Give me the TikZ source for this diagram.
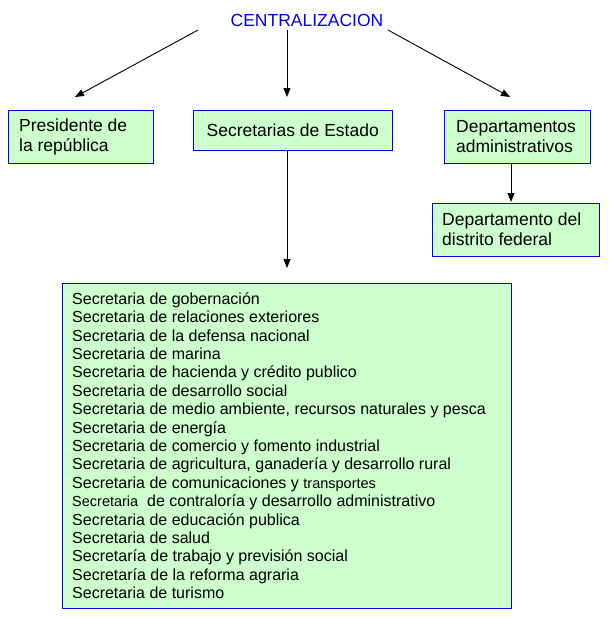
\documentclass[tikz,border=0pt]{standalone}
\usepackage{fontspec}
\setmainfont{Liberation Sans}
\usetikzlibrary{positioning,arrows.meta}
\definecolor{boxgreen}{HTML}{CCFFCC}
\begin{document}
\begin{tikzpicture}[x=1pt,y=-1pt]
    % Styles
    \tikzset{
        entity/.style={draw=blue, fill=boxgreen, anchor=north west, inner sep=0pt,
            align=left, font=\fontsize{17.5}{20}\selectfont},
        link/.style={-{Triangle[length=9pt,width=7pt]}, line width=0.9pt}
    }
    \useasboundingbox (0,0) rectangle (609,618);

    % Title
    \node[text=blue, font=\fontsize{17.5}{20}\selectfont] (title) at (307,20) {CENTRALIZACION};

    % Boxes
    \node[entity, minimum width=145pt, minimum height=53pt] (pres) at (8,110)
        {\parbox[c][53pt][c]{145pt}{\hspace*{11pt}Presidente de\\\hspace*{11pt}la república}};
    \node[entity, minimum width=199pt, minimum height=40pt] (secr) at (193,110)
        {\parbox[c][40pt][c]{199pt}{\centering Secretarias de Estado}};
    \node[entity, minimum width=146pt, minimum height=53pt] (dept) at (444,110)
        {\parbox[c][53pt][c]{146pt}{\hspace*{12pt}Departamentos\\\hspace*{12pt}administrativos}};
    \node[entity, minimum width=167pt, minimum height=53pt] (dist) at (432,203)
        {\parbox[c][53pt][c]{167pt}{\hspace*{10pt}Departamento del\\\hspace*{10pt}distrito federal}};
    \node[entity, minimum width=449pt, minimum height=325pt] (list) at (62,283)
        {\parbox[c][325pt][c]{449pt}{\fontsize{16}{18.4}\selectfont\leftskip=10pt
        Secretaria de gobernación\\
        Secretaria de relaciones exteriores\\
        Secretaria de la defensa nacional\\
        Secretaria de marina\\
        Secretaria de hacienda y crédito publico\\
        Secretaria de desarrollo social\\
        Secretaria de medio ambiente, recursos naturales y pesca\\
        Secretaria de energía\\
        Secretaria de comercio y fomento industrial\\
        Secretaria de agricultura, ganadería y desarrollo rural\\
        Secretaria de comunicaciones y {\fontsize{14.5}{18.4}\selectfont transportes}\\
        {\fontsize{14.5}{18.4}\selectfont Secretaria} \ de contraloría y desarrollo administrativo\\
        Secretaria de educación publica\\
        Secretaria de salud\\
        Secretaría de trabajo y previsión social\\
        Secretaría de la reforma agraria\\
        Secretaria de turismo}};

    % Arrow ends
    \coordinate (t1) at (198,30);
    \coordinate (t2) at (287,30);
    \coordinate (t3) at (388,30);
    \coordinate (a1) at (75,97);
    \coordinate (a2) at (287,97);
    \coordinate (a3) at (510,97);
    \coordinate (s1) at (287,150);
    \coordinate (s2) at (287,268);
    \coordinate (d1) at (511,163);
    \coordinate (d2) at (511,202);

    % Connectors
    \draw[link] (t1) -- (a1);
    \draw[link] (t2) -- (a2);
    \draw[link] (t3) -- (a3);
    \draw[link] (d1) -- (d2);
    \draw[link] (s1) -- (s2);
\end{tikzpicture}
\end{document}
